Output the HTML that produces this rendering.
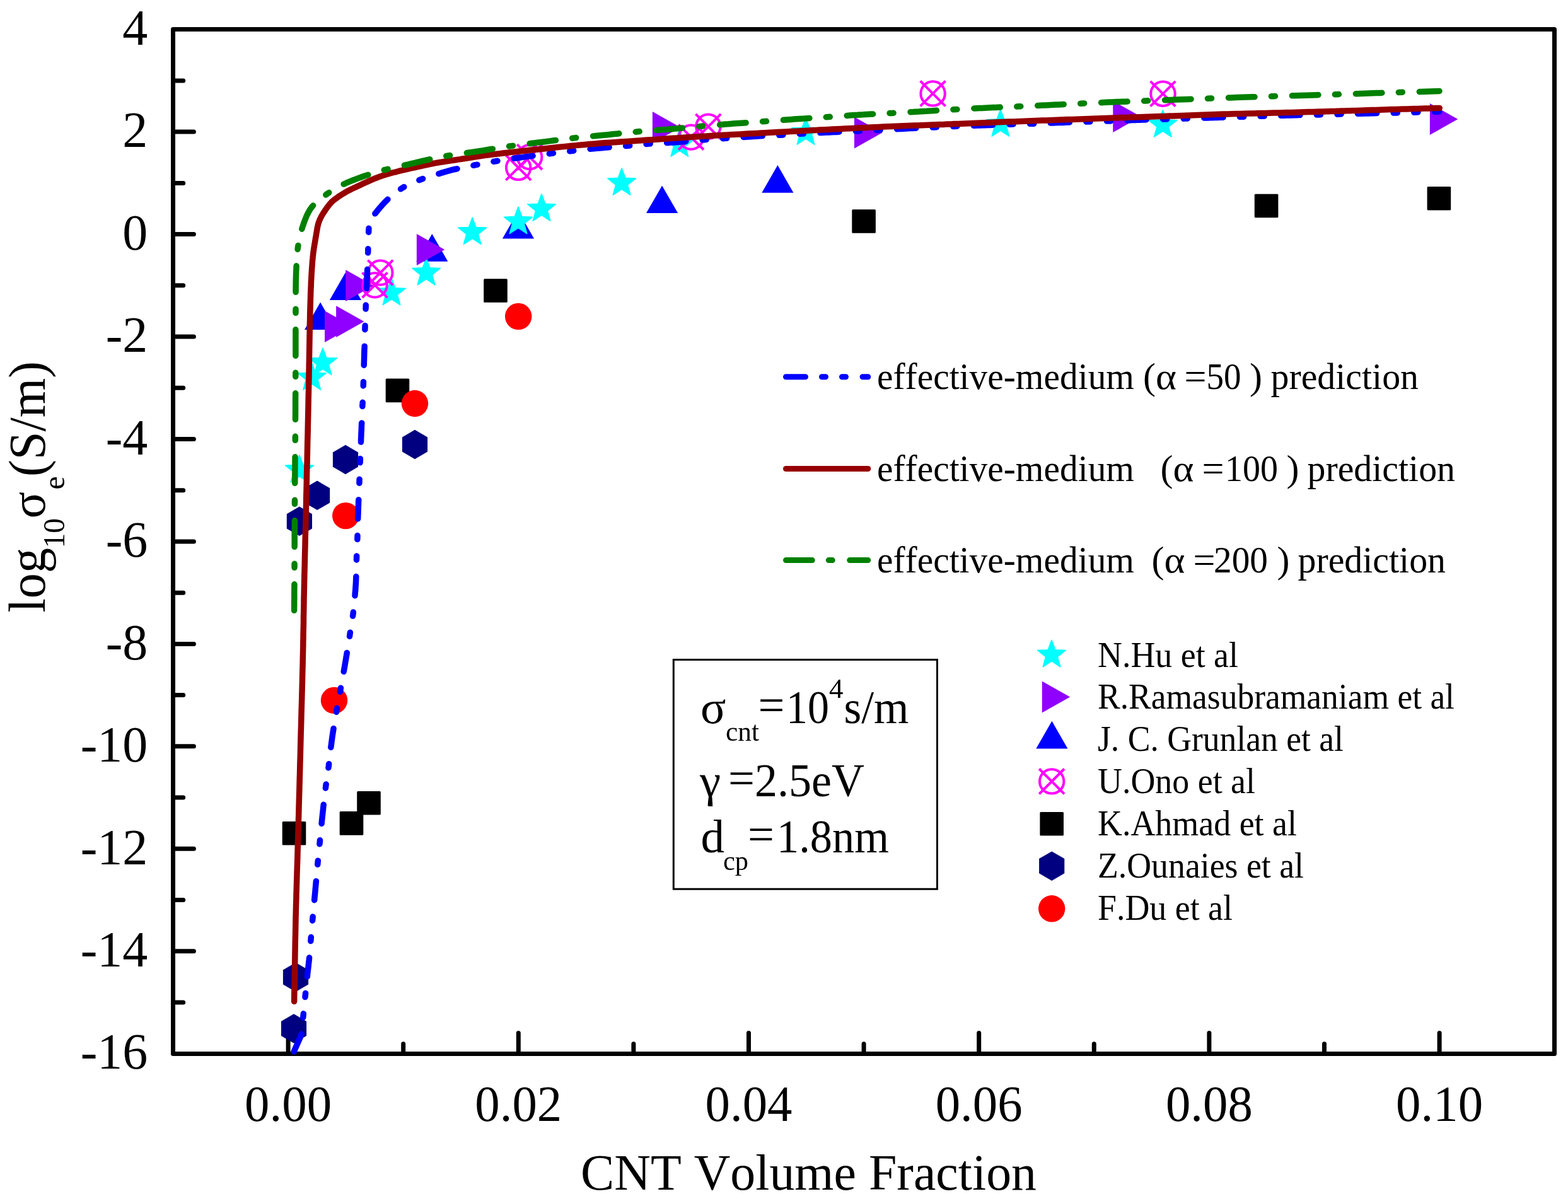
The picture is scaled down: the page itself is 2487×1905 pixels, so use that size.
<!DOCTYPE html>
<html lang="en"><head><meta charset="utf-8"><title>CNT Volume Fraction vs log10 conductivity</title>
<style>
html,body{margin:0;padding:0;background:#fff;}
body{width:2487px;height:1905px;overflow:hidden;}
svg{display:block;}
text{font-family:"Liberation Serif","DejaVu Serif",serif;fill:#000;font-kerning:none;font-variant-ligatures:none;}
.tk{font-size:80px;}
.lg{font-size:59px;}
.ml{font-size:56.3px;}
.bx{font-size:75px;}
</style></head><body>
<svg width="2487" height="1905" viewBox="0 0 2487 1905" role="img" aria-label="log10 conductivity versus CNT volume fraction">
<rect x="0" y="0" width="2487" height="1905" fill="#fff"/>
<g fill="none" stroke="#000" stroke-width="7">
<rect x="274.5" y="46.5" width="2191" height="1625" stroke-linejoin="round"/>
<path stroke-linecap="round" d="M457.1 1669.5V1638.6M639.7 1669.5V1655.7M822.3 1669.5V1638.6M1004.9 1669.5V1655.7M1187.5 1669.5V1638.6M1370.1 1669.5V1655.7M1552.7 1669.5V1638.6M1735.3 1669.5V1655.7M1917.9 1669.5V1638.6M2100.5 1669.5V1655.7M2283.1 1669.5V1638.6M276.5 127.9H290.7M276.5 209.1H307.4M276.5 290.4H290.7M276.5 371.6H307.4M276.5 452.8H290.7M276.5 534H307.4M276.5 615.3H290.7M276.5 696.5H307.4M276.5 777.7H290.7M276.5 859H307.4M276.5 940.2H290.7M276.5 1021.4H307.4M276.5 1102.6H290.7M276.5 1183.8H307.4M276.5 1265.1H290.7M276.5 1346.3H307.4M276.5 1427.5H290.7M276.5 1508.8H307.4M276.5 1590H290.7"/>
</g>
<g fill="#000000"><rect x="447.7" y="1303" width="37.6" height="37.6" rx="1.5"/><rect x="538.7" y="1287.1" width="37.6" height="37.6" rx="1.5"/><rect x="566.2" y="1254.9" width="37.6" height="37.6" rx="1.5"/><rect x="611.7" y="600.6" width="37.6" height="37.6" rx="1.5"/><rect x="767.2" y="442.2" width="37.6" height="37.6" rx="1.5"/><rect x="1351.3" y="332.2" width="37.6" height="37.6" rx="1.5"/><rect x="1989.8" y="307.7" width="37.6" height="37.6" rx="1.5"/><rect x="2263.6" y="295.9" width="37.6" height="37.6" rx="1.5"/></g>
<g fill="#ff0000"><circle cx="822.2" cy="501.9" r="21.2"/><circle cx="658" cy="640" r="21.2"/><circle cx="548.2" cy="818.1" r="21.2"/><circle cx="530" cy="1110.9" r="21.2"/></g>
<g fill="#000080"><polygon points="474.9,803.6 495.0,815.2 495.0,838.4 474.9,850.0 454.8,838.4 454.8,815.2"/><polygon points="503.1,762.6 523.2,774.2 523.2,797.4 503.1,809.0 483.0,797.4 483.0,774.2"/><polygon points="548.0,705.8 568.1,717.4 568.1,740.6 548.0,752.2 527.9,740.6 527.9,717.4"/><polygon points="658.0,681.8 678.1,693.4 678.1,716.6 658.0,728.2 637.9,716.6 637.9,693.4"/><polygon points="469.0,1526.8 489.1,1538.4 489.1,1561.6 469.0,1573.2 448.9,1561.6 448.9,1538.4"/><polygon points="466.0,1608.3 486.1,1619.9 486.1,1643.1 466.0,1654.7 445.9,1643.1 445.9,1619.9"/></g>
<g fill="#0000ff"><polygon points="483,523.1 508.1,479.5 533.2,523.1"/><polygon points="522.8,475.9 547.9,432.3 573,475.9"/><polygon points="660.2,414.7 685.3,371.1 710.4,414.7"/><polygon points="796.9,378.6 822,335 847.1,378.6"/><polygon points="1025,338 1050.1,294.4 1075.2,338"/><polygon points="1208.3,305.7 1233.4,262.1 1258.5,305.7"/></g>
<g fill="#00ffff" stroke="#00ffff" stroke-width="1.5" stroke-linejoin="round"><polygon points="475.0,722.1 480.8,737.6 497.3,738.3 484.4,748.6 488.8,764.6 475.0,755.5 461.2,764.6 465.6,748.6 452.7,738.3 469.2,737.6"/><polygon points="494.7,575.7 500.5,591.2 517.0,591.9 504.1,602.2 508.5,618.2 494.7,609.1 480.9,618.2 485.3,602.2 472.4,591.9 488.9,591.2"/><polygon points="512.0,551.9 517.8,567.4 534.3,568.1 521.4,578.4 525.8,594.4 512.0,585.3 498.2,594.4 502.6,578.4 489.7,568.1 506.2,567.4"/><polygon points="621.0,441.2 626.8,456.7 643.3,457.4 630.4,467.7 634.8,483.7 621.0,474.6 607.2,483.7 611.6,467.7 598.7,457.4 615.2,456.7"/><polygon points="676.1,409.3 681.9,424.8 698.4,425.5 685.5,435.8 689.9,451.8 676.1,442.7 662.3,451.8 666.7,435.8 653.8,425.5 670.3,424.8"/><polygon points="749.2,344.9 755.0,360.4 771.5,361.1 758.6,371.4 763.0,387.4 749.2,378.3 735.4,387.4 739.8,371.4 726.9,361.1 743.4,360.4"/><polygon points="822.0,328.1 827.8,343.6 844.3,344.3 831.4,354.6 835.8,370.6 822.0,361.5 808.2,370.6 812.6,354.6 799.7,344.3 816.2,343.6"/><polygon points="859.0,307.8 864.8,323.3 881.3,324.0 868.4,334.3 872.8,350.3 859.0,341.2 845.2,350.3 849.6,334.3 836.7,324.0 853.2,323.3"/><polygon points="986.1,266.8 991.9,282.3 1008.4,283.0 995.5,293.3 999.9,309.3 986.1,300.2 972.3,309.3 976.7,293.3 963.8,283.0 980.3,282.3"/><polygon points="1077.8,205.6 1083.6,221.1 1100.1,221.8 1087.2,232.1 1091.6,248.1 1077.8,239.0 1064.0,248.1 1068.4,232.1 1055.5,221.8 1072.0,221.1"/><polygon points="1278.0,186.7 1283.8,202.2 1300.3,202.9 1287.4,213.2 1291.8,229.2 1278.0,220.1 1264.2,229.2 1268.6,213.2 1255.7,202.9 1272.2,202.2"/><polygon points="1586.9,173.6 1592.7,189.1 1609.2,189.8 1596.3,200.1 1600.7,216.1 1586.9,207.0 1573.1,216.1 1577.5,200.1 1564.6,189.8 1581.1,189.1"/><polygon points="1844.3,174.6 1850.1,190.1 1866.6,190.8 1853.7,201.1 1858.1,217.1 1844.3,208.0 1830.5,217.1 1834.9,201.1 1822.0,190.8 1838.5,190.1"/></g>
<g fill="#8f00ff"><polygon points="515,493 559.4,518 515,543"/><polygon points="533.1,485 577.5,510 533.1,535"/><polygon points="548.2,427.9 592.6,452.9 548.2,477.9"/><polygon points="660.9,371 705.3,396 660.9,421"/><polygon points="1034.9,176.9 1079.3,201.9 1034.9,226.9"/><polygon points="1355,185.6 1399.4,210.6 1355,235.6"/><polygon points="1765.3,160 1809.7,185 1765.3,210"/><polygon points="2267.9,164 2312.3,189 2267.9,214"/></g>
<g fill="none" stroke="#ff00ff" stroke-width="4"><circle cx="594.5" cy="452.3" r="19.2"/><path d="M574.6 432.4L614.4 472.2M574.6 472.2L614.4 432.4"/><circle cx="603.3" cy="432.5" r="19.2"/><path d="M583.4 412.6L623.2 452.4M583.4 452.4L623.2 412.6"/><circle cx="822.2" cy="265.9" r="19.2"/><path d="M802.3 246L842.1 285.8M802.3 285.8L842.1 246"/><circle cx="840.1" cy="249.1" r="19.2"/><path d="M820.2 229.2L860 269M820.2 269L860 229.2"/><circle cx="1096.1" cy="217.6" r="19.2"/><path d="M1076.2 197.7L1116 237.5M1076.2 237.5L1116 197.7"/><circle cx="1123.4" cy="200.8" r="19.2"/><path d="M1103.5 180.9L1143.3 220.7M1103.5 220.7L1143.3 180.9"/><circle cx="1479.6" cy="148.4" r="19.2"/><path d="M1459.7 128.5L1499.5 168.3M1459.7 168.3L1499.5 128.5"/><circle cx="1844.5" cy="148.7" r="19.2"/><path d="M1824.6 128.8L1864.4 168.6M1824.6 168.6L1864.4 128.8"/></g>
<g fill="none" stroke-linecap="round" stroke-linejoin="round" stroke-width="9.5">
<path stroke="#0000ff" stroke-dasharray="30.2 26.5 6.1 26.5 6.1 26.5" d="M466.2 1668.0 L478.0 1641.4 L478.2 1639.0 L478.5 1636.5 L478.7 1634.1 L479.0 1631.6 L479.2 1629.2 L479.4 1626.8 L479.7 1624.3 L479.9 1621.9 L480.2 1619.4 L480.4 1617.0 L480.7 1614.5 L480.9 1612.0 L481.2 1609.4 L481.4 1606.8 L481.7 1604.1 L482.0 1601.5 L482.2 1598.8 L482.5 1596.1 L482.8 1593.5 L483.0 1590.8 L483.3 1588.1 L483.6 1585.5 L483.8 1582.8 L484.1 1580.2 L484.4 1577.6 L484.6 1575.1 L484.9 1572.5 L485.1 1570.0 L485.4 1567.5 L485.6 1564.9 L485.9 1562.4 L486.2 1559.9 L486.4 1557.4 L486.7 1554.8 L486.9 1552.3 L487.2 1549.8 L487.5 1547.3 L487.7 1544.8 L488.0 1542.3 L488.3 1539.8 L488.6 1537.3 L488.9 1534.8 L489.2 1532.3 L489.4 1529.8 L489.7 1527.3 L490.0 1524.8 L490.3 1522.3 L490.5 1519.8 L490.7 1517.4 L491.0 1514.9 L491.2 1512.5 L491.4 1510.1 L491.6 1507.7 L491.8 1505.3 L492.0 1502.9 L492.2 1500.4 L492.4 1498.0 L492.6 1495.5 L492.8 1493.1 L493.0 1490.6 L493.2 1488.0 L493.4 1485.4 L493.7 1482.8 L493.9 1480.2 L494.1 1477.5 L494.3 1474.9 L494.6 1472.2 L494.8 1469.5 L495.0 1466.8 L495.3 1464.0 L495.5 1461.2 L495.8 1458.3 L496.1 1454.8 L496.4 1451.2 L496.8 1447.5 L497.1 1443.8 L497.5 1439.9 L497.9 1436.1 L498.2 1432.2 L498.6 1428.4 L498.9 1424.5 L499.3 1420.6 L499.7 1416.8 L500.0 1413.0 L500.3 1409.2 L500.7 1405.5 L501.0 1401.7 L501.4 1397.8 L501.7 1394.0 L502.0 1390.2 L502.4 1386.5 L502.7 1382.7 L503.0 1379.0 L503.4 1375.4 L503.7 1371.9 L504.0 1368.4 L504.3 1365.5 L504.5 1362.8 L504.8 1360.1 L505.1 1357.4 L505.3 1354.8 L505.6 1352.2 L505.8 1349.6 L506.1 1347.0 L506.4 1344.3 L506.6 1341.6 L506.9 1338.9 L507.2 1336.0 L507.5 1332.6 L507.9 1329.0 L508.2 1325.4 L508.6 1321.7 L508.9 1318.0 L509.3 1314.3 L509.7 1310.5 L510.1 1306.7 L510.4 1302.9 L510.8 1299.2 L511.2 1295.4 L511.6 1291.7 L512.0 1288.0 L512.4 1284.2 L512.8 1280.5 L513.2 1276.7 L513.7 1272.9 L514.1 1269.1 L514.5 1265.4 L515.0 1261.6 L515.4 1258.0 L515.8 1254.4 L516.3 1250.8 L516.7 1247.4 L517.1 1244.5 L517.5 1241.8 L517.8 1239.1 L518.2 1236.4 L518.6 1233.8 L519.0 1231.3 L519.4 1228.7 L519.8 1226.1 L520.1 1223.4 L520.5 1220.7 L520.9 1218.0 L521.3 1215.1 L521.7 1211.6 L522.2 1208.1 L522.6 1204.4 L523.1 1200.7 L523.5 1197.0 L523.9 1193.2 L524.4 1189.4 L524.8 1185.5 L525.3 1181.7 L525.8 1177.9 L526.3 1174.1 L526.8 1170.4 L527.3 1166.7 L527.9 1162.9 L528.5 1159.1 L529.1 1155.3 L529.7 1151.5 L530.4 1147.7 L531.0 1143.9 L531.6 1140.2 L532.3 1136.6 L532.9 1133.0 L533.5 1129.4 L534.1 1126.0 L534.6 1123.2 L535.1 1120.5 L535.6 1117.9 L536.0 1115.3 L536.5 1112.8 L537.0 1110.2 L537.4 1107.7 L537.9 1105.2 L538.4 1102.6 L538.9 1100.0 L539.4 1097.2 L539.9 1094.4 L540.5 1090.8 L541.2 1087.2 L541.9 1083.4 L542.6 1079.5 L543.3 1075.6 L544.0 1071.6 L544.8 1067.6 L545.5 1063.6 L546.2 1059.7 L546.9 1055.7 L547.5 1051.8 L548.2 1048.0 L548.8 1044.4 L549.4 1040.8 L550.0 1037.2 L550.6 1033.6 L551.2 1030.0 L551.7 1026.4 L552.3 1022.9 L552.9 1019.4 L553.4 1016.0 L553.9 1012.5 L554.5 1009.2 L555.0 1005.9 L555.4 1003.1 L555.9 1000.4 L556.3 997.7 L556.7 995.0 L557.1 992.4 L557.6 989.8 L558.0 987.2 L558.4 984.7 L558.8 982.1 L559.2 979.5 L559.6 976.9 L560.0 974.3 L560.4 970.5 L560.7 966.7 L561.1 962.9 L561.5 959.1 L561.9 955.3 L562.3 951.5 L562.6 947.7 L563.0 943.9 L563.3 940.1 L563.7 936.3 L563.9 932.5 L564.2 928.7 L564.4 924.9 L564.6 921.1 L564.7 917.3 L564.9 913.5 L565.0 909.7 L565.1 905.9 L565.1 902.1 L565.2 898.3 L565.3 894.6 L565.4 891.0 L565.5 887.5 L565.6 884.0 L565.7 881.2 L565.8 878.4 L565.9 875.8 L566.0 873.2 L566.1 870.6 L566.3 868.1 L566.4 865.5 L566.5 862.9 L566.6 860.3 L566.7 857.7 L566.8 854.9 L566.9 852.1 L567.0 848.6 L567.1 845.1 L567.2 841.4 L567.3 837.7 L567.4 834.0 L567.5 830.2 L567.6 826.4 L567.7 822.5 L567.8 818.7 L568.0 814.9 L568.1 811.1 L568.2 807.4 L568.3 803.7 L568.5 800.0 L568.6 796.3 L568.8 792.5 L568.9 788.8 L569.1 785.1 L569.2 781.4 L569.4 777.7 L569.6 774.1 L569.7 770.5 L569.9 767.0 L570.0 763.6 L570.1 760.7 L570.2 757.9 L570.3 755.1 L570.4 752.4 L570.5 749.8 L570.7 747.1 L570.8 744.4 L570.9 741.8 L571.0 739.0 L571.1 736.3 L571.2 733.4 L571.3 730.5 L571.4 726.9 L571.6 723.3 L571.7 719.5 L571.9 715.7 L572.0 711.9 L572.2 708.0 L572.3 704.1 L572.5 700.2 L572.6 696.2 L572.8 692.3 L572.9 688.4 L573.1 684.6 L573.3 680.8 L573.4 677.0 L573.6 673.1 L573.8 669.3 L573.9 665.5 L574.1 661.6 L574.3 657.8 L574.5 654.0 L574.6 650.3 L574.8 646.6 L574.9 643.0 L575.1 639.4 L575.2 636.3 L575.4 633.3 L575.5 630.3 L575.6 627.3 L575.7 624.4 L575.8 621.5 L576.0 618.6 L576.1 615.7 L576.2 612.8 L576.3 609.9 L576.4 607.0 L576.5 604.0 L576.6 601.0 L576.7 597.9 L576.8 594.9 L576.9 591.9 L577.0 588.9 L577.1 585.9 L577.2 582.8 L577.2 579.7 L577.3 576.6 L577.4 573.5 L577.5 570.3 L577.6 567.0 L577.7 563.1 L577.8 559.2 L577.9 555.1 L578.1 550.9 L578.2 546.7 L578.3 542.5 L578.4 538.3 L578.5 534.1 L578.6 530.0 L578.8 525.9 L578.9 522.0 L579.0 518.3 L579.1 515.3 L579.2 512.5 L579.3 509.7 L579.4 507.0 L579.5 504.4 L579.6 501.8 L579.7 499.2 L579.8 496.5 L579.9 493.8 L580.0 491.1 L580.1 488.3 L580.2 485.4 L580.3 481.9 L580.5 478.3 L580.7 474.6 L580.8 470.9 L581.0 467.1 L581.2 463.2 L581.4 459.4 L581.5 455.5 L581.7 451.6 L581.9 447.8 L582.0 444.0 L582.2 440.2 L582.3 436.5 L582.5 432.8 L582.6 429.0 L582.8 425.3 L582.9 421.6 L583.0 417.9 L583.2 414.2 L583.3 410.5 L583.4 406.8 L583.5 403.1 L583.7 399.4 L583.8 395.7 L583.9 392.0 L584.0 388.4 L584.2 384.7 L584.3 381.1 L584.4 377.5 L584.5 373.8 L584.6 370.2 L584.7 366.6 L584.9 362.9 L585.0 359.3 L585.1 355.6 L585.2 352.0 L585.9 351.0 L586.7 350.0 L587.4 349.0 L588.1 348.0 L588.8 347.0 L589.5 346.0 L590.2 345.0 L591.0 344.0 L591.7 342.9 L592.5 341.8 L593.4 340.7 L594.3 339.6 L595.6 337.9 L597.0 336.2 L598.5 334.4 L600.0 332.5 L601.6 330.6 L603.2 328.7 L604.9 326.8 L606.6 324.8 L608.4 322.9 L610.1 321.1 L611.9 319.2 L613.7 317.5 L615.6 315.7 L617.5 314.0 L619.4 312.2 L621.4 310.5 L623.4 308.8 L625.4 307.2 L627.5 305.5 L629.6 303.9 L631.7 302.4 L633.9 300.9 L636.1 299.4 L638.3 298.0 L640.6 296.6 L643.0 295.3 L645.5 294.0 L648.0 292.8 L650.5 291.6 L653.0 290.5 L655.6 289.4 L658.2 288.3 L660.8 287.3 L663.3 286.3 L665.9 285.3 L668.4 284.3 L670.8 283.4 L673.2 282.5 L675.7 281.7 L678.2 280.9 L680.6 280.1 L683.1 279.4 L685.5 278.7 L687.9 278.0 L690.3 277.3 L692.6 276.6 L694.8 275.9 L697.0 275.3 L698.7 274.8 L700.2 274.3 L701.7 273.8 L703.2 273.4 L704.6 273.0 L706.0 272.5 L707.5 272.1 L708.9 271.7 L710.5 271.2 L712.0 270.8 L713.7 270.4 L715.5 269.9 L718.3 269.2 L721.3 268.5 L724.5 267.8 L727.9 267.0 L731.3 266.3 L734.9 265.6 L738.4 264.8 L742.0 264.1 L745.5 263.4 L749.0 262.7 L752.4 262.0 L755.6 261.4 L758.4 260.9 L761.1 260.3 L763.7 259.8 L766.3 259.3 L768.9 258.8 L771.5 258.3 L774.1 257.9 L776.7 257.4 L779.3 256.9 L782.0 256.4 L784.8 256.0 L787.6 255.5 L791.1 254.9 L794.6 254.4 L798.2 253.8 L801.9 253.2 L805.7 252.7 L809.4 252.1 L813.2 251.6 L817.1 251.0 L820.9 250.5 L824.7 250.0 L828.5 249.4 L832.2 248.9 L835.9 248.4 L839.7 247.9 L843.4 247.4 L847.2 246.9 L851.0 246.4 L854.7 245.9 L858.5 245.4 L862.2 244.9 L865.8 244.4 L869.4 244.0 L873.0 243.5 L876.4 243.1 L879.2 242.7 L882.0 242.4 L884.7 242.1 L887.3 241.7 L889.9 241.4 L892.4 241.1 L895.0 240.8 L897.6 240.5 L900.2 240.1 L902.9 239.8 L905.7 239.5 L908.5 239.2 L912.0 238.8 L915.5 238.4 L919.1 238.0 L922.8 237.7 L926.6 237.3 L930.3 236.9 L934.1 236.5 L938.0 236.1 L941.8 235.8 L945.6 235.4 L949.4 235.0 L953.1 234.7 L956.8 234.4 L960.6 234.0 L964.4 233.7 L968.2 233.4 L972.0 233.1 L975.8 232.8 L979.6 232.6 L983.3 232.3 L987.0 232.0 L990.6 231.7 L994.2 231.4 L997.6 231.1 L1000.4 230.8 L1003.2 230.6 L1005.8 230.3 L1008.4 230.1 L1011.0 229.8 L1013.5 229.6 L1016.1 229.3 L1018.6 229.0 L1021.2 228.8 L1023.9 228.6 L1026.7 228.3 L1029.5 228.1 L1033.0 227.8 L1036.6 227.6 L1040.3 227.4 L1044.1 227.2 L1048.0 227.0 L1051.8 226.8 L1055.7 226.6 L1059.6 226.4 L1063.6 226.1 L1067.4 225.9 L1071.3 225.7 L1075.1 225.4 L1078.8 225.1 L1082.6 224.8 L1086.4 224.5 L1090.2 224.1 L1094.0 223.7 L1097.7 223.4 L1101.5 223.0 L1105.2 222.7 L1108.8 222.3 L1112.4 222.0 L1116.0 221.7 L1119.4 221.4 L1122.2 221.2 L1125.0 221.0 L1127.6 220.8 L1130.3 220.6 L1132.8 220.5 L1135.4 220.3 L1138.0 220.1 L1140.5 220.0 L1143.2 219.8 L1145.9 219.7 L1148.6 219.5 L1151.5 219.3 L1155.1 219.1 L1158.8 218.8 L1162.6 218.5 L1166.5 218.3 L1170.4 218.0 L1174.4 217.7 L1178.4 217.5 L1182.4 217.2 L1186.4 216.9 L1190.4 216.7 L1194.3 216.4 L1198.2 216.2 L1201.9 216.0 L1205.6 215.8 L1209.3 215.6 L1213.0 215.4 L1216.7 215.2 L1220.4 215.1 L1224.0 214.9 L1227.6 214.7 L1231.2 214.5 L1234.7 214.4 L1238.1 214.2 L1241.5 214.0 L1244.3 213.8 L1247.0 213.7 L1249.6 213.5 L1252.2 213.4 L1254.7 213.2 L1257.3 213.1 L1259.8 212.9 L1262.3 212.7 L1264.9 212.6 L1267.6 212.4 L1270.3 212.3 L1273.1 212.1 L1276.6 211.9 L1280.2 211.7 L1283.8 211.5 L1287.6 211.3 L1291.4 211.1 L1295.2 210.9 L1299.1 210.7 L1303.0 210.5 L1306.8 210.3 L1310.7 210.1 L1314.5 209.9 L1318.3 209.7 L1322.0 209.5 L1325.8 209.4 L1329.5 209.2 L1333.3 209.0 L1337.0 208.9 L1340.8 208.7 L1344.5 208.6 L1348.2 208.4 L1351.8 208.3 L1355.4 208.1 L1359.0 208.0 L1362.4 207.8 L1365.3 207.7 L1368.1 207.5 L1370.8 207.4 L1373.5 207.2 L1376.2 207.1 L1378.8 207.0 L1381.5 206.8 L1384.1 206.7 L1386.8 206.5 L1389.6 206.4 L1392.4 206.3 L1395.3 206.1 L1398.8 205.9 L1402.4 205.7 L1406.0 205.5 L1409.7 205.3 L1413.4 205.2 L1417.2 205.0 L1421.0 204.8 L1424.8 204.6 L1428.7 204.4 L1432.5 204.2 L1436.3 204.0 L1440.0 203.8 L1443.7 203.6 L1447.5 203.4 L1451.4 203.3 L1455.2 203.1 L1459.0 202.9 L1462.8 202.8 L1466.6 202.6 L1470.4 202.4 L1474.1 202.3 L1477.7 202.1 L1481.2 202.0 L1484.7 201.8 L1487.5 201.7 L1490.3 201.5 L1492.9 201.4 L1495.5 201.3 L1498.1 201.2 L1500.6 201.0 L1503.2 200.9 L1505.7 200.8 L1508.4 200.7 L1511.0 200.5 L1513.8 200.4 L1516.6 200.3 L1520.1 200.2 L1523.7 200.0 L1527.4 199.9 L1531.2 199.8 L1535.0 199.6 L1538.9 199.5 L1542.8 199.4 L1546.7 199.2 L1550.6 199.1 L1554.4 199.0 L1558.3 198.8 L1562.1 198.7 L1565.9 198.6 L1569.7 198.4 L1573.5 198.3 L1577.3 198.1 L1581.2 198.0 L1585.0 197.9 L1588.8 197.7 L1592.5 197.6 L1596.2 197.5 L1599.8 197.3 L1603.4 197.2 L1606.8 197.1 L1609.6 197.0 L1612.3 196.9 L1614.9 196.9 L1617.5 196.8 L1620.0 196.7 L1622.5 196.7 L1625.0 196.6 L1627.6 196.5 L1630.1 196.5 L1632.7 196.4 L1635.4 196.3 L1638.2 196.2 L1641.6 196.1 L1645.1 196.0 L1648.6 195.8 L1652.2 195.7 L1655.9 195.5 L1659.6 195.4 L1663.3 195.2 L1667.1 195.1 L1670.8 194.9 L1674.6 194.8 L1678.3 194.6 L1682.0 194.5 L1685.8 194.4 L1689.6 194.2 L1693.5 194.1 L1697.3 194.0 L1701.2 193.8 L1705.1 193.7 L1709.0 193.6 L1712.8 193.5 L1716.5 193.3 L1720.2 193.2 L1723.8 193.1 L1727.3 193.0 L1730.1 192.9 L1732.8 192.8 L1735.4 192.7 L1738.0 192.7 L1740.5 192.6 L1743.0 192.5 L1745.5 192.4 L1748.0 192.4 L1750.6 192.3 L1753.2 192.2 L1755.9 192.1 L1758.7 192.0 L1762.2 191.9 L1765.8 191.7 L1769.5 191.6 L1773.2 191.5 L1777.0 191.3 L1780.9 191.2 L1784.8 191.0 L1788.7 190.9 L1792.6 190.7 L1796.4 190.6 L1800.3 190.4 L1804.1 190.3 L1807.9 190.2 L1811.8 190.1 L1815.6 189.9 L1819.5 189.8 L1823.4 189.7 L1827.3 189.6 L1831.1 189.5 L1835.0 189.4 L1838.7 189.3 L1842.4 189.2 L1846.0 189.1 L1849.5 189.0 L1852.3 188.9 L1855.1 188.8 L1857.8 188.7 L1860.4 188.7 L1863.0 188.6 L1865.6 188.5 L1868.2 188.4 L1870.7 188.3 L1873.3 188.3 L1876.0 188.2 L1878.7 188.1 L1881.5 188.0 L1884.8 187.9 L1888.1 187.8 L1891.4 187.7 L1894.8 187.6 L1898.2 187.5 L1901.7 187.4 L1905.2 187.3 L1908.7 187.1 L1912.3 187.0 L1915.8 186.9 L1919.4 186.8 L1923.0 186.7 L1926.9 186.6 L1931.0 186.5 L1935.1 186.3 L1939.3 186.2 L1943.4 186.1 L1947.6 185.9 L1951.8 185.8 L1955.9 185.7 L1960.0 185.6 L1964.0 185.4 L1967.8 185.3 L1971.5 185.2 L1974.4 185.1 L1977.2 185.0 L1979.8 184.9 L1982.5 184.9 L1985.0 184.8 L1987.6 184.7 L1990.1 184.6 L1992.7 184.5 L1995.3 184.5 L1997.9 184.4 L2000.7 184.3 L2003.5 184.2 L2007.0 184.1 L2010.6 184.0 L2014.2 183.9 L2017.9 183.8 L2021.7 183.7 L2025.5 183.5 L2029.4 183.4 L2033.2 183.3 L2037.1 183.2 L2040.9 183.1 L2044.7 183.0 L2048.5 182.9 L2052.2 182.8 L2055.7 182.7 L2059.3 182.6 L2062.8 182.6 L2066.3 182.5 L2069.8 182.4 L2073.4 182.3 L2077.0 182.3 L2080.7 182.2 L2084.5 182.1 L2088.5 182.0 L2092.6 181.9 L2098.4 181.8 L2104.5 181.6 L2110.9 181.4 L2117.6 181.3 L2124.4 181.1 L2131.2 180.9 L2138.1 180.7 L2144.9 180.5 L2151.6 180.4 L2158.0 180.2 L2164.1 180.0 L2169.9 179.9 L2174.1 179.8 L2178.1 179.7 L2182.1 179.6 L2185.9 179.6 L2189.7 179.5 L2193.4 179.4 L2197.0 179.4 L2200.6 179.3 L2204.1 179.2 L2207.6 179.2 L2211.1 179.1 L2214.5 179.0 L2217.4 178.9 L2220.2 178.9 L2222.9 178.8 L2225.6 178.7 L2228.3 178.6 L2230.9 178.6 L2233.5 178.5 L2236.2 178.4 L2238.8 178.3 L2241.5 178.3 L2244.2 178.2 L2246.9 178.1 L2249.8 178.0 L2252.8 177.9 L2255.7 177.9 L2258.7 177.8 L2261.7 177.7 L2264.7 177.6 L2267.7 177.5 L2270.8 177.4 L2273.8 177.4 L2276.8 177.3 L2279.8 177.2 L2282.8 177.1"/>
<path stroke="#960000" d="M466.6 1588.5 L466.8 1576.6 L467.0 1564.5 L467.3 1552.4 L467.5 1540.2 L467.7 1528.1 L467.9 1515.9 L468.1 1503.9 L468.3 1491.9 L468.6 1480.1 L468.8 1468.5 L469.0 1457.1 L469.3 1446.0 L469.5 1436.7 L469.8 1427.7 L470.0 1418.9 L470.3 1410.2 L470.5 1401.7 L470.8 1393.3 L471.0 1384.8 L471.3 1376.2 L471.6 1367.5 L471.9 1358.6 L472.1 1349.5 L472.4 1340.0 L472.7 1328.1 L473.1 1315.9 L473.4 1303.3 L473.8 1290.4 L474.1 1277.4 L474.5 1264.2 L474.9 1250.9 L475.2 1237.7 L475.6 1224.5 L475.9 1211.4 L476.3 1198.6 L476.6 1186.0 L476.9 1174.2 L477.2 1162.1 L477.6 1149.8 L477.9 1137.6 L478.2 1125.4 L478.6 1113.3 L478.9 1101.5 L479.2 1090.1 L479.5 1079.1 L479.7 1068.7 L480.0 1059.0 L480.2 1050.0 L480.3 1045.0 L480.4 1040.3 L480.5 1035.9 L480.6 1031.7 L480.7 1027.6 L480.8 1023.7 L480.8 1019.9 L480.9 1016.0 L481.0 1012.2 L481.0 1008.3 L481.1 1004.2 L481.2 1000.0 L481.3 995.3 L481.4 990.4 L481.5 985.5 L481.5 980.5 L481.6 975.4 L481.7 970.4 L481.8 965.4 L481.9 960.5 L482.0 955.6 L482.0 950.9 L482.1 946.4 L482.2 942.0 L482.3 938.8 L482.3 935.8 L482.4 932.9 L482.4 930.2 L482.5 927.5 L482.6 924.9 L482.6 922.2 L482.7 919.3 L482.8 916.4 L482.8 913.2 L482.9 909.8 L483.0 906.0 L483.2 898.0 L483.4 889.1 L483.6 879.4 L483.9 869.0 L484.1 858.0 L484.4 846.6 L484.7 834.8 L485.0 822.8 L485.3 810.7 L485.6 798.7 L485.8 786.7 L486.1 775.0 L486.4 761.6 L486.7 747.5 L487.1 732.8 L487.4 717.9 L487.7 702.8 L488.1 687.7 L488.4 672.9 L488.7 658.6 L489.0 645.0 L489.2 632.2 L489.5 620.5 L489.7 610.0 L489.8 604.8 L489.9 600.1 L490.0 595.7 L490.0 591.5 L490.1 587.5 L490.2 583.7 L490.2 580.0 L490.3 576.2 L490.4 572.4 L490.4 568.5 L490.5 564.4 L490.6 560.0 L490.7 554.5 L490.8 548.8 L490.9 543.0 L491.0 537.1 L491.1 531.0 L491.2 524.9 L491.3 518.9 L491.4 512.8 L491.6 506.8 L491.7 500.9 L491.8 495.1 L492.0 489.5 L492.1 484.7 L492.3 479.8 L492.4 475.0 L492.6 470.2 L492.7 465.5 L492.9 460.8 L493.1 456.2 L493.3 451.7 L493.4 447.3 L493.7 443.0 L493.9 438.8 L494.1 434.8 L494.3 431.8 L494.5 428.8 L494.7 425.9 L494.9 423.1 L495.1 420.3 L495.3 417.6 L495.5 415.0 L495.7 412.3 L496.0 409.7 L496.2 407.1 L496.5 404.6 L496.8 402.0 L497.1 399.7 L497.4 397.4 L497.7 395.2 L498.0 393.0 L498.4 390.8 L498.7 388.6 L499.1 386.5 L499.5 384.3 L499.8 382.2 L500.2 380.1 L500.5 378.0 L500.9 376.0 L501.2 374.2 L501.5 372.3 L501.8 370.5 L502.1 368.7 L502.4 366.9 L502.7 365.1 L503.0 363.4 L503.3 361.7 L503.6 360.0 L504.0 358.4 L504.3 356.9 L504.7 355.5 L505.0 354.5 L505.3 353.6 L505.5 352.8 L505.8 352.0 L506.1 351.2 L506.4 350.4 L506.7 349.6 L507.0 348.9 L507.4 348.1 L507.7 347.3 L508.1 346.5 L508.5 345.7 L509.0 344.7 L509.5 343.8 L510.0 342.8 L510.5 341.9 L511.1 340.9 L511.7 339.9 L512.3 338.9 L512.9 337.9 L513.5 337.0 L514.2 336.0 L514.8 335.0 L515.5 334.0 L516.3 332.9 L517.0 331.8 L517.8 330.6 L518.7 329.4 L519.5 328.3 L520.4 327.1 L521.3 326.0 L522.1 324.8 L523.0 323.7 L524.0 322.7 L524.9 321.7 L525.8 320.7 L526.6 319.9 L527.5 319.1 L528.4 318.3 L529.2 317.6 L530.1 316.9 L531.0 316.2 L531.9 315.5 L532.8 314.9 L533.7 314.2 L534.7 313.6 L535.6 312.9 L536.6 312.2 L537.7 311.4 L538.9 310.7 L540.0 309.9 L541.2 309.1 L542.4 308.4 L543.6 307.6 L544.8 306.9 L546.1 306.1 L547.3 305.4 L548.6 304.6 L549.9 303.9 L551.2 303.2 L552.6 302.4 L554.1 301.7 L555.6 300.9 L557.0 300.2 L558.6 299.5 L560.1 298.8 L561.6 298.0 L563.2 297.3 L564.7 296.6 L566.3 295.9 L567.9 295.1 L569.5 294.4 L571.3 293.6 L573.1 292.7 L575.0 291.8 L576.9 290.9 L578.8 290.0 L580.8 289.1 L582.7 288.3 L584.5 287.4 L586.4 286.6 L588.1 285.8 L589.8 285.1 L591.4 284.4 L592.5 284.0 L593.5 283.5 L594.4 283.1 L595.4 282.8 L596.3 282.4 L597.2 282.0 L598.1 281.7 L599.0 281.4 L599.9 281.0 L600.8 280.7 L601.7 280.3 L602.7 280.0 L603.8 279.6 L604.8 279.3 L605.9 278.9 L606.9 278.5 L608.0 278.2 L609.1 277.8 L610.2 277.5 L611.3 277.1 L612.5 276.8 L613.8 276.4 L615.1 276.0 L616.5 275.6 L618.9 274.9 L621.6 274.2 L624.4 273.5 L627.4 272.8 L630.5 272.0 L633.6 271.2 L636.9 270.4 L640.2 269.7 L643.5 268.9 L646.7 268.1 L649.9 267.4 L653.0 266.7 L656.1 266.0 L659.3 265.3 L662.6 264.5 L666.0 263.8 L669.3 263.1 L672.6 262.4 L675.8 261.7 L679.0 261.0 L681.9 260.4 L684.7 259.9 L687.2 259.3 L689.5 258.9 L690.6 258.7 L691.5 258.5 L692.4 258.4 L693.2 258.2 L694.0 258.1 L694.7 258.0 L695.5 257.8 L696.2 257.7 L697.0 257.6 L697.9 257.4 L698.9 257.3 L700.0 257.1 L702.4 256.7 L705.2 256.3 L708.3 255.8 L711.6 255.3 L715.0 254.8 L718.6 254.2 L722.3 253.7 L726.0 253.1 L729.7 252.6 L733.3 252.0 L736.7 251.5 L740.0 251.0 L742.8 250.6 L745.5 250.1 L748.1 249.7 L750.6 249.3 L753.2 248.9 L755.7 248.5 L758.3 248.1 L760.9 247.7 L763.7 247.3 L766.6 246.9 L769.7 246.4 L773.0 246.0 L778.8 245.3 L785.1 244.5 L791.9 243.7 L799.1 242.8 L806.5 242.0 L814.1 241.1 L821.9 240.3 L829.7 239.4 L837.5 238.6 L845.2 237.8 L852.7 237.0 L860.0 236.2 L866.8 235.5 L873.6 234.8 L880.3 234.0 L887.0 233.3 L893.7 232.6 L900.4 232.0 L907.0 231.3 L913.7 230.6 L920.3 230.0 L927.0 229.4 L933.6 228.8 L940.3 228.2 L946.9 227.7 L953.6 227.1 L960.2 226.6 L966.9 226.2 L973.5 225.7 L980.1 225.2 L986.8 224.8 L993.4 224.4 L1000.1 223.9 L1006.7 223.5 L1013.3 223.1 L1020.0 222.6 L1026.7 222.1 L1033.4 221.7 L1040.1 221.2 L1046.8 220.7 L1053.5 220.3 L1060.1 219.8 L1066.8 219.3 L1073.5 218.9 L1080.2 218.4 L1086.9 218.0 L1093.6 217.5 L1100.3 217.1 L1107.0 216.7 L1113.6 216.3 L1120.2 215.9 L1126.9 215.5 L1133.5 215.1 L1140.1 214.7 L1146.8 214.3 L1153.4 214.0 L1160.1 213.6 L1166.7 213.2 L1173.3 212.9 L1180.0 212.5 L1186.7 212.1 L1193.4 211.8 L1200.1 211.4 L1206.8 211.0 L1213.5 210.7 L1220.1 210.3 L1226.8 210.0 L1233.5 209.6 L1240.2 209.3 L1246.9 208.9 L1253.6 208.6 L1260.3 208.2 L1267.0 207.9 L1273.6 207.5 L1280.2 207.2 L1286.9 206.8 L1293.5 206.5 L1300.1 206.1 L1306.8 205.8 L1313.4 205.4 L1320.1 205.1 L1326.7 204.8 L1333.3 204.4 L1340.0 204.1 L1346.7 203.8 L1353.4 203.4 L1360.2 203.1 L1367.0 202.7 L1373.7 202.4 L1380.5 202.1 L1387.2 201.7 L1393.9 201.4 L1400.6 201.1 L1407.2 200.8 L1413.8 200.5 L1420.3 200.2 L1426.3 199.9 L1432.2 199.7 L1438.1 199.5 L1443.9 199.3 L1449.7 199.1 L1455.4 198.9 L1461.2 198.7 L1466.9 198.5 L1472.7 198.2 L1478.4 198.0 L1484.2 197.8 L1490.0 197.6 L1495.8 197.4 L1501.7 197.1 L1507.6 196.9 L1513.4 196.6 L1519.3 196.4 L1525.2 196.2 L1531.0 195.9 L1536.9 195.7 L1542.7 195.4 L1548.6 195.2 L1554.5 194.9 L1560.3 194.7 L1566.1 194.5 L1571.9 194.2 L1577.7 194.0 L1583.5 193.8 L1589.4 193.6 L1595.2 193.3 L1601.0 193.1 L1606.8 192.9 L1612.6 192.7 L1618.4 192.4 L1624.2 192.2 L1630.0 192.0 L1635.8 191.8 L1641.6 191.6 L1647.4 191.3 L1653.1 191.1 L1658.9 190.9 L1664.7 190.7 L1670.5 190.5 L1676.3 190.3 L1682.2 190.0 L1688.1 189.8 L1694.0 189.6 L1700.0 189.4 L1706.5 189.2 L1713.0 188.9 L1719.6 188.7 L1726.3 188.5 L1732.9 188.2 L1739.7 188.0 L1746.4 187.8 L1753.1 187.5 L1759.9 187.3 L1766.6 187.1 L1773.3 186.8 L1780.0 186.6 L1786.7 186.4 L1793.4 186.1 L1800.1 185.9 L1806.8 185.7 L1813.5 185.5 L1820.2 185.3 L1826.9 185.0 L1833.6 184.8 L1840.2 184.6 L1846.9 184.4 L1853.6 184.1 L1860.3 183.9 L1867.0 183.7 L1873.6 183.4 L1880.2 183.2 L1886.9 182.9 L1893.5 182.7 L1900.1 182.5 L1906.8 182.2 L1913.4 182.0 L1920.1 181.7 L1926.7 181.5 L1933.3 181.3 L1940.0 181.1 L1946.7 180.9 L1953.4 180.7 L1960.1 180.5 L1966.8 180.4 L1973.5 180.2 L1980.1 180.1 L1986.8 179.9 L1993.5 179.8 L2000.2 179.6 L2006.9 179.4 L2013.6 179.3 L2020.3 179.1 L2027.0 178.9 L2033.9 178.7 L2040.9 178.6 L2047.9 178.4 L2054.9 178.2 L2061.9 178.0 L2068.7 177.8 L2075.5 177.6 L2082.0 177.4 L2088.3 177.2 L2094.3 177.1 L2100.0 176.9 L2103.8 176.8 L2107.3 176.7 L2110.7 176.6 L2113.9 176.5 L2117.0 176.4 L2120.1 176.3 L2123.2 176.2 L2126.3 176.1 L2129.5 176.0 L2132.8 175.9 L2136.3 175.8 L2140.0 175.7 L2145.3 175.5 L2150.9 175.4 L2156.7 175.2 L2162.8 175.0 L2168.9 174.8 L2175.2 174.6 L2181.6 174.4 L2188.0 174.2 L2194.3 174.0 L2200.7 173.8 L2206.9 173.6 L2213.0 173.4 L2218.9 173.2 L2224.8 173.1 L2230.7 172.9 L2236.5 172.7 L2242.4 172.5 L2248.2 172.4 L2254.1 172.2 L2259.9 172.1 L2265.8 171.9 L2271.6 171.7 L2277.4 171.6 L2283.3 171.4"/>
<path stroke="#008000" stroke-dasharray="41.5 26.5 6 27" d="M466.6 968.3 L466.6 966.5 L466.6 964.8 L466.6 963.2 L466.7 961.6 L466.7 960.0 L466.7 958.4 L466.7 956.7 L466.7 954.9 L466.7 953.0 L466.8 950.9 L466.8 948.6 L466.8 946.0 L466.8 938.0 L466.9 928.2 L466.9 916.8 L467.0 904.2 L467.1 890.7 L467.1 876.6 L467.2 862.1 L467.2 847.5 L467.3 833.2 L467.4 819.4 L467.4 806.5 L467.5 794.7 L467.6 786.1 L467.6 777.7 L467.7 769.6 L467.8 761.7 L467.8 754.0 L467.9 746.4 L468.0 738.8 L468.0 731.2 L468.1 723.6 L468.2 715.9 L468.2 708.0 L468.3 700.0 L468.4 691.1 L468.4 681.9 L468.5 672.5 L468.5 663.0 L468.6 653.4 L468.6 643.9 L468.6 634.5 L468.7 625.3 L468.7 616.3 L468.7 607.7 L468.8 599.6 L468.8 592.0 L468.8 587.1 L468.8 582.5 L468.8 578.1 L468.8 573.8 L468.9 569.6 L468.9 565.6 L468.9 561.6 L468.9 557.7 L468.9 553.7 L468.9 549.8 L468.9 545.7 L468.9 541.6 L468.9 537.4 L468.9 533.3 L468.9 529.1 L468.9 524.9 L468.9 520.8 L468.9 516.6 L468.9 512.5 L468.9 508.3 L469.0 504.1 L469.0 500.0 L469.0 495.8 L469.0 491.6 L469.0 487.3 L469.0 482.9 L469.0 478.4 L469.1 473.8 L469.1 469.3 L469.1 464.8 L469.1 460.4 L469.1 456.0 L469.2 451.8 L469.2 447.7 L469.3 443.9 L469.4 440.2 L469.5 437.8 L469.5 435.5 L469.6 433.3 L469.7 431.1 L469.8 429.1 L469.9 427.0 L470.0 425.0 L470.1 423.0 L470.2 421.1 L470.3 419.1 L470.5 417.1 L470.6 415.0 L470.7 412.9 L470.9 410.9 L471.0 408.8 L471.1 406.8 L471.3 404.8 L471.4 402.7 L471.6 400.7 L471.8 398.6 L472.0 396.6 L472.2 394.5 L472.5 392.4 L472.8 390.3 L473.2 388.0 L473.6 385.6 L474.0 383.3 L474.4 380.9 L474.9 378.5 L475.4 376.1 L475.9 373.7 L476.5 371.3 L477.1 368.8 L477.8 366.4 L478.5 364.0 L479.3 361.6 L480.2 359.0 L481.1 356.3 L482.0 353.5 L483.0 350.8 L484.1 348.0 L485.2 345.3 L486.3 342.6 L487.6 339.9 L488.9 337.3 L490.3 334.8 L491.7 332.4 L493.3 330.1 L494.9 328.0 L496.6 326.0 L498.5 324.1 L500.3 322.2 L502.3 320.4 L504.3 318.6 L506.4 316.9 L508.5 315.3 L510.6 313.6 L512.8 312.0 L514.9 310.5 L517.0 308.9 L519.0 307.4 L521.1 306.0 L523.1 304.6 L525.2 303.2 L527.3 301.8 L529.4 300.5 L531.5 299.3 L533.7 298.0 L535.9 296.8 L538.2 295.5 L540.6 294.3 L543.0 293.1 L546.0 291.7 L549.2 290.2 L552.5 288.8 L556.0 287.4 L559.5 286.0 L563.0 284.7 L566.5 283.3 L570.1 282.1 L573.5 280.8 L576.9 279.6 L580.2 278.5 L583.4 277.4 L585.9 276.6 L588.3 275.8 L590.7 275.0 L593.0 274.3 L595.3 273.6 L597.6 272.9 L599.9 272.2 L602.2 271.6 L604.4 271.0 L606.7 270.3 L609.0 269.7 L611.4 269.1 L613.8 268.5 L616.2 267.9 L618.6 267.3 L621.0 266.8 L623.4 266.2 L625.8 265.7 L628.2 265.1 L630.7 264.6 L633.2 264.0 L635.7 263.5 L638.3 262.9 L640.9 262.3 L644.1 261.5 L647.4 260.8 L650.9 259.9 L654.4 259.1 L657.9 258.3 L661.5 257.4 L665.0 256.6 L668.6 255.7 L672.1 254.9 L675.5 254.1 L678.8 253.4 L682.0 252.7 L684.5 252.2 L687.0 251.6 L689.4 251.1 L691.7 250.6 L693.9 250.2 L696.2 249.7 L698.5 249.3 L700.8 248.8 L703.1 248.4 L705.6 247.9 L708.1 247.5 L710.8 247.0 L714.5 246.4 L718.4 245.8 L722.4 245.1 L726.5 244.5 L730.8 243.9 L735.1 243.3 L739.5 242.7 L743.9 242.0 L748.2 241.4 L752.6 240.8 L756.9 240.1 L761.1 239.5 L765.2 238.9 L769.3 238.2 L773.5 237.5 L777.6 236.8 L781.7 236.2 L785.8 235.5 L789.8 234.8 L793.9 234.1 L798.1 233.5 L802.2 232.8 L806.3 232.2 L810.4 231.6 L814.6 231.0 L818.7 230.4 L822.9 229.9 L827.1 229.3 L831.2 228.8 L835.4 228.3 L839.6 227.8 L843.8 227.3 L848.0 226.8 L852.1 226.2 L856.3 225.7 L860.5 225.2 L864.7 224.7 L868.9 224.1 L873.0 223.6 L877.2 223.0 L881.4 222.5 L885.6 222.0 L889.7 221.4 L893.9 220.9 L898.1 220.4 L902.3 219.9 L906.5 219.4 L910.7 218.9 L914.9 218.4 L919.2 218.0 L923.4 217.6 L927.7 217.1 L931.9 216.7 L936.2 216.3 L940.5 215.9 L944.7 215.5 L949.0 215.1 L953.2 214.7 L957.5 214.3 L961.7 213.9 L965.9 213.5 L970.1 213.0 L974.3 212.6 L978.4 212.2 L982.6 211.7 L986.8 211.3 L991.0 210.9 L995.1 210.4 L999.3 210.0 L1003.5 209.6 L1007.7 209.2 L1011.9 208.8 L1016.1 208.4 L1020.4 208.1 L1024.6 207.7 L1028.9 207.4 L1033.2 207.1 L1037.4 206.8 L1041.7 206.5 L1046.0 206.1 L1050.2 205.8 L1054.5 205.5 L1058.7 205.2 L1062.9 204.8 L1067.0 204.4 L1071.1 204.1 L1075.2 203.7 L1079.3 203.3 L1083.4 202.9 L1087.4 202.6 L1091.5 202.2 L1095.6 201.8 L1099.7 201.4 L1103.8 201.0 L1107.9 200.7 L1112.0 200.3 L1116.2 199.9 L1120.5 199.6 L1124.7 199.2 L1129.0 198.8 L1133.2 198.5 L1137.5 198.1 L1141.8 197.8 L1146.1 197.4 L1150.3 197.1 L1154.6 196.8 L1158.9 196.4 L1163.1 196.1 L1167.3 195.8 L1171.5 195.5 L1175.7 195.2 L1179.9 194.9 L1184.0 194.6 L1188.2 194.3 L1192.4 194.0 L1196.6 193.7 L1200.8 193.4 L1204.9 193.1 L1209.1 192.8 L1213.3 192.5 L1217.5 192.2 L1221.7 191.9 L1225.8 191.6 L1230.0 191.3 L1234.2 190.9 L1238.3 190.6 L1242.5 190.3 L1246.7 190.0 L1250.9 189.7 L1255.0 189.4 L1259.2 189.1 L1263.4 188.8 L1267.6 188.5 L1271.8 188.2 L1275.9 188.0 L1280.1 187.7 L1284.3 187.4 L1288.5 187.1 L1292.6 186.9 L1296.8 186.6 L1301.0 186.3 L1305.2 186.1 L1309.4 185.8 L1313.6 185.5 L1317.8 185.2 L1322.1 184.9 L1326.4 184.6 L1330.6 184.3 L1334.9 184.0 L1339.2 183.7 L1343.5 183.4 L1347.7 183.1 L1352.0 182.8 L1356.2 182.5 L1360.5 182.3 L1364.7 182.0 L1368.8 181.8 L1372.9 181.5 L1377.0 181.3 L1381.1 181.1 L1385.2 180.9 L1389.3 180.7 L1393.4 180.5 L1397.4 180.3 L1401.5 180.0 L1405.6 179.8 L1409.8 179.6 L1413.9 179.4 L1418.2 179.2 L1422.5 178.9 L1426.8 178.7 L1431.1 178.5 L1435.4 178.2 L1439.7 178.0 L1444.1 177.7 L1448.4 177.5 L1452.7 177.2 L1457.0 177.0 L1461.3 176.7 L1465.6 176.5 L1469.8 176.3 L1474.0 176.0 L1478.1 175.8 L1482.3 175.5 L1486.4 175.3 L1490.5 175.0 L1494.7 174.8 L1498.8 174.5 L1502.9 174.3 L1507.1 174.1 L1511.2 173.8 L1515.4 173.6 L1519.6 173.4 L1523.8 173.1 L1528.0 172.9 L1532.2 172.7 L1536.4 172.5 L1540.6 172.3 L1544.9 172.0 L1549.1 171.8 L1553.3 171.6 L1557.5 171.4 L1561.7 171.2 L1565.9 171.0 L1570.1 170.8 L1574.3 170.6 L1578.5 170.4 L1582.6 170.2 L1586.8 170.1 L1591.0 169.9 L1595.2 169.7 L1599.4 169.5 L1603.6 169.3 L1607.7 169.2 L1611.9 169.0 L1616.1 168.8 L1620.3 168.6 L1624.4 168.4 L1628.6 168.2 L1632.8 168.0 L1637.0 167.9 L1641.1 167.7 L1645.3 167.5 L1649.5 167.3 L1653.6 167.1 L1657.8 166.9 L1662.0 166.7 L1666.2 166.5 L1670.4 166.3 L1674.7 166.1 L1679.0 165.9 L1683.2 165.7 L1687.5 165.5 L1691.7 165.2 L1696.0 165.0 L1700.3 164.8 L1704.5 164.6 L1708.8 164.4 L1713.1 164.2 L1717.3 164.0 L1721.5 163.8 L1725.7 163.6 L1729.9 163.4 L1734.1 163.2 L1738.3 163.0 L1742.4 162.9 L1746.6 162.7 L1750.8 162.5 L1755.0 162.3 L1759.2 162.1 L1763.3 162.0 L1767.5 161.8 L1771.6 161.6 L1775.6 161.5 L1779.5 161.3 L1783.4 161.2 L1787.2 161.1 L1791.2 160.9 L1795.1 160.8 L1799.2 160.6 L1803.4 160.5 L1807.7 160.3 L1812.3 160.2 L1817.0 160.0 L1824.3 159.7 L1832.0 159.4 L1840.1 159.1 L1848.5 158.8 L1857.1 158.5 L1866.0 158.1 L1875.0 157.8 L1884.0 157.4 L1893.1 157.1 L1902.1 156.7 L1910.9 156.4 L1919.5 156.1 L1927.9 155.8 L1936.3 155.5 L1944.6 155.2 L1953.0 154.9 L1961.4 154.6 L1969.7 154.3 L1978.0 154.1 L1986.4 153.8 L1994.7 153.5 L2003.1 153.2 L2011.4 153.0 L2019.8 152.7 L2028.2 152.4 L2036.7 152.2 L2045.3 151.9 L2053.9 151.7 L2062.5 151.4 L2071.1 151.2 L2079.6 150.9 L2088.0 150.7 L2096.3 150.4 L2104.6 150.2 L2112.6 149.9 L2120.5 149.7 L2127.1 149.5 L2133.6 149.3 L2140.0 149.1 L2146.2 148.9 L2152.4 148.7 L2158.5 148.4 L2164.6 148.2 L2170.7 148.0 L2176.8 147.8 L2183.1 147.6 L2189.4 147.4 L2195.8 147.2 L2202.8 147.0 L2210.0 146.8 L2217.2 146.5 L2224.4 146.3 L2231.7 146.1 L2239.0 145.9 L2246.3 145.6 L2253.7 145.4 L2261.1 145.2 L2268.4 145.0 L2275.7 144.7 L2283.0 144.5"/>
</g>
<g class="tk" text-anchor="end">
<text x="234.3" y="70.9">4</text>
<text x="234.3" y="233.3">2</text>
<text x="234.3" y="395.8">0</text>
<text x="234.3" y="558.2">-2</text>
<text x="234.3" y="720.7">-4</text>
<text x="234.3" y="883.2">-6</text>
<text x="234.3" y="1045.6">-8</text>
<text x="234.3" y="1208">-10</text>
<text x="234.3" y="1370.5">-12</text>
<text x="234.3" y="1533">-14</text>
<text x="234.3" y="1695.4">-16</text>
</g>
<g class="tk" text-anchor="middle">
<text x="457.1" y="1778" textLength="138" lengthAdjust="spacingAndGlyphs">0.00</text>
<text x="822.3" y="1778" textLength="138" lengthAdjust="spacingAndGlyphs">0.02</text>
<text x="1187.5" y="1778" textLength="138" lengthAdjust="spacingAndGlyphs">0.04</text>
<text x="1552.7" y="1778" textLength="138" lengthAdjust="spacingAndGlyphs">0.06</text>
<text x="1917.9" y="1778" textLength="138" lengthAdjust="spacingAndGlyphs">0.08</text>
<text x="2283.1" y="1778" textLength="138" lengthAdjust="spacingAndGlyphs">0.10</text>
</g>
<text class="tk" x="921" y="1887" textLength="723" lengthAdjust="spacingAndGlyphs">CNT Volume Fraction</text>
<g transform="translate(70.6 971) rotate(-90)" style="font-size:82px"><text x="-0.5" y="0" textLength="102.5" lengthAdjust="spacingAndGlyphs">log</text><text x="101.5" y="31.5" style="font-size:47.5px">10</text><text x="148.5" y="0" style="font-size:79px">σ</text><text x="194.5" y="31.5" style="font-size:47.5px">e</text><text x="215" y="0" textLength="183" lengthAdjust="spacingAndGlyphs">(S/m)</text></g>
<path fill="none" stroke="#0000ff" stroke-width="9" stroke-linecap="round" stroke-dasharray="31 26 6 26 6 26.6" d="M1246.5 597.7H1376.8"/>
<text class="lg" x="1391" y="617.2" textLength="408" lengthAdjust="spacingAndGlyphs">effective-medium</text>
<text class="lg" x="1813" y="617.2" textLength="20" lengthAdjust="spacingAndGlyphs">(</text>
<text class="lg" x="1833" y="617.2" textLength="33" lengthAdjust="spacingAndGlyphs">α</text>
<text class="lg" x="1878.5" y="617.2" textLength="35" lengthAdjust="spacingAndGlyphs">=</text>
<text class="lg" x="1913.5" y="617.2" textLength="55" lengthAdjust="spacingAndGlyphs">50</text>
<text class="lg" x="1982" y="617.2" textLength="20" lengthAdjust="spacingAndGlyphs">)</text>
<text class="lg" x="2015.5" y="617.2" textLength="234.5" lengthAdjust="spacingAndGlyphs">prediction</text>
<path fill="none" stroke="#960000" stroke-width="9" stroke-linecap="round" d="M1246.5 743.5H1376.8"/>
<text class="lg" x="1391" y="763.2" textLength="408" lengthAdjust="spacingAndGlyphs">effective-medium</text>
<text class="lg" x="1840.5" y="763.2" textLength="20" lengthAdjust="spacingAndGlyphs">(</text>
<text class="lg" x="1860.5" y="763.2" textLength="33" lengthAdjust="spacingAndGlyphs">α</text>
<text class="lg" x="1906.5" y="763.2" textLength="35" lengthAdjust="spacingAndGlyphs">=</text>
<text class="lg" x="1943" y="763.2" textLength="84" lengthAdjust="spacingAndGlyphs">100</text>
<text class="lg" x="2040.5" y="763.2" textLength="20" lengthAdjust="spacingAndGlyphs">)</text>
<text class="lg" x="2073.5" y="763.2" textLength="234.5" lengthAdjust="spacingAndGlyphs">prediction</text>
<path fill="none" stroke="#008000" stroke-width="9" stroke-linecap="round" stroke-dasharray="41.8 26 6 27.4" d="M1246.5 888.6H1376.8"/>
<text class="lg" x="1391" y="908.3" textLength="408" lengthAdjust="spacingAndGlyphs">effective-medium</text>
<text class="lg" x="1826.5" y="908.3" textLength="20" lengthAdjust="spacingAndGlyphs">(</text>
<text class="lg" x="1846.5" y="908.3" textLength="33" lengthAdjust="spacingAndGlyphs">α</text>
<text class="lg" x="1892.5" y="908.3" textLength="35" lengthAdjust="spacingAndGlyphs">=</text>
<text class="lg" x="1925" y="908.3" textLength="86" lengthAdjust="spacingAndGlyphs">200</text>
<text class="lg" x="2025.5" y="908.3" textLength="20" lengthAdjust="spacingAndGlyphs">)</text>
<text class="lg" x="2058.5" y="908.3" textLength="234.5" lengthAdjust="spacingAndGlyphs">prediction</text>
<rect x="1068.3" y="1046.4" width="418.2" height="363.8" fill="none" stroke="#000" stroke-width="3"/>
<g class="bx">
<text x="1111" y="1147.4">σ</text>
<text x="1151" y="1174.5" style="font-size:45px" textLength="53" lengthAdjust="spacingAndGlyphs">cnt</text>
<text x="1202.5" y="1142.6" textLength="42" lengthAdjust="spacingAndGlyphs">=</text>
<text x="1247" y="1147.4" textLength="68" lengthAdjust="spacingAndGlyphs">10</text>
<text x="1315" y="1107" style="font-size:45px">4</text>
<text x="1338.5" y="1147.4" textLength="103" lengthAdjust="spacingAndGlyphs">s/m</text>
<text x="1110" y="1262.8">γ</text>
<text x="1155" y="1258.5" textLength="42" lengthAdjust="spacingAndGlyphs">=</text>
<text x="1197" y="1262.8" textLength="174" lengthAdjust="spacingAndGlyphs">2.5eV</text>
<text x="1111.5" y="1352.4">d</text>
<text x="1147" y="1380" style="font-size:45px" textLength="40" lengthAdjust="spacingAndGlyphs">cp</text>
<text x="1186" y="1347.6" textLength="42" lengthAdjust="spacingAndGlyphs">=</text>
<text x="1232" y="1352.4" textLength="178" lengthAdjust="spacingAndGlyphs">1.8nm</text>
</g>
<g fill="#00ffff" stroke="#00ffff" stroke-width="1.5" stroke-linejoin="round"><polygon points="1668.0,1015.3 1673.8,1030.8 1690.3,1031.5 1677.4,1041.8 1681.8,1057.8 1668.0,1048.7 1654.2,1057.8 1658.6,1041.8 1645.7,1031.5 1662.2,1030.8"/></g>
<text class="ml" x="1741" y="1057.6" textLength="223" lengthAdjust="spacingAndGlyphs">N.Hu et al</text>
<g fill="#8f00ff"><polygon points="1652.8,1080.4 1697.2,1105.4 1652.8,1130.4"/></g>
<text class="ml" x="1741" y="1124.3" textLength="566" lengthAdjust="spacingAndGlyphs">R.Ramasubramaniam et al</text>
<g fill="#0000ff"><polygon points="1643.3,1187.4 1668.4,1143.8 1693.5,1187.4"/></g>
<text class="ml" x="1741" y="1191.2" textLength="390" lengthAdjust="spacingAndGlyphs">J. C. Grunlan et al</text>
<g fill="none" stroke="#ff00ff" stroke-width="4"><circle cx="1668.2" cy="1239.4" r="19.2"/><path d="M1648.3 1219.5L1688.1 1259.3M1648.3 1259.3L1688.1 1219.5"/></g>
<text class="ml" x="1741" y="1258.4" textLength="250" lengthAdjust="spacingAndGlyphs">U.Ono et al</text>
<g fill="#000000"><rect x="1649.4" y="1287.9" width="37.6" height="37.6" rx="1.5"/></g>
<text class="ml" x="1741" y="1325.4" textLength="316" lengthAdjust="spacingAndGlyphs">K.Ahmad et al</text>
<g fill="#000080"><polygon points="1668.2,1350.5 1688.3,1362.1 1688.3,1385.3 1668.2,1396.9 1648.1,1385.3 1648.1,1362.1"/></g>
<text class="ml" x="1741" y="1392.2" textLength="327" lengthAdjust="spacingAndGlyphs">Z.Ounaies et al</text>
<g fill="#ff0000"><circle cx="1668.2" cy="1441.3" r="21.2"/></g>
<text class="ml" x="1741" y="1459.4" textLength="214" lengthAdjust="spacingAndGlyphs">F.Du et al</text>
</svg>
</body></html>
